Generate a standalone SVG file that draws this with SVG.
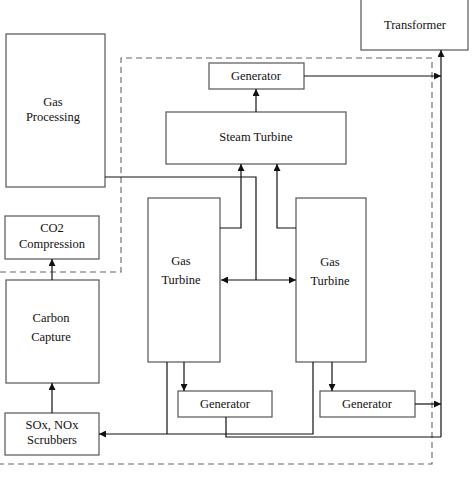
<svg xmlns="http://www.w3.org/2000/svg" width="474" height="489" viewBox="0 0 474 489">
<style>
.box{fill:#fff;stroke:#555;stroke-width:1.2}
text{font-family:'Liberation Serif','Times New Roman','DejaVu Serif',serif;font-size:12.5px;fill:#111;text-anchor:middle}
.c{fill:none;stroke:#111;stroke-width:1.2}
.dash{fill:none;stroke:#666;stroke-width:1.1;stroke-dasharray:6,4}
</style>
<defs>
<marker id="ah" markerUnits="userSpaceOnUse" markerWidth="8" markerHeight="7" refX="7" refY="3.5" orient="auto-start-reverse">
<path d="M0,0 L7,3.5 L0,7 z" fill="#111"/>
</marker>
</defs>
<rect width="474" height="489" fill="#fff"/>
<polyline class="dash" points="0,272 121,272 121,58 432,58 432,464 0,464"/>
<g id="gas-processing"><rect class="box" x="6" y="34" width="99" height="153"/><text font-family="Liberation Serif, serif" x="53" y="106">Gas</text><text font-family="Liberation Serif, serif" x="53" y="121">Processing</text></g>
<g id="co2-compression"><rect class="box" x="5" y="216" width="94" height="43"/><text font-family="Liberation Serif, serif" x="52" y="232">CO2</text><text font-family="Liberation Serif, serif" x="52" y="248">Compression</text></g>
<g id="carbon-capture"><rect class="box" x="6" y="280" width="93" height="103"/><text font-family="Liberation Serif, serif" x="51" y="322">Carbon</text><text font-family="Liberation Serif, serif" x="51" y="341">Capture</text></g>
<g id="scrubbers"><rect class="box" x="5" y="413" width="94" height="42"/><text font-family="Liberation Serif, serif" x="52" y="429">SOx, NOx</text><text font-family="Liberation Serif, serif" x="52" y="444">Scrubbers</text></g>
<g id="transformer"><rect class="box" x="361" y="-2" width="107" height="52"/><text font-family="Liberation Serif, serif" x="415" y="29">Transformer</text></g>
<g id="generator-top"><rect class="box" x="209" y="63" width="95" height="26"/><text font-family="Liberation Serif, serif" x="256" y="80">Generator</text></g>
<g id="steam-turbine"><rect class="box" x="166" y="112" width="180" height="52"/><text font-family="Liberation Serif, serif" x="256" y="141">Steam Turbine</text></g>
<g id="gas-turbine-left"><rect class="box" x="148" y="198" width="72" height="164"/><text font-family="Liberation Serif, serif" x="181" y="265">Gas</text><text font-family="Liberation Serif, serif" x="181" y="284">Turbine</text></g>
<g id="gas-turbine-right"><rect class="box" x="296" y="198" width="70" height="164"/><text font-family="Liberation Serif, serif" x="330" y="266">Gas</text><text font-family="Liberation Serif, serif" x="330" y="285">Turbine</text></g>
<g id="generator-left"><rect class="box" x="178" y="391" width="94" height="26"/><text font-family="Liberation Serif, serif" x="225" y="408">Generator</text></g>
<g id="generator-right"><rect class="box" x="320" y="391" width="95" height="26"/><text font-family="Liberation Serif, serif" x="367" y="408">Generator</text></g>
<g id="connectors">
<path class="c" d="M105,177 H256 V280"/>
<path class="c" d="M221,280 H296" marker-start="url(#ah)" marker-end="url(#ah)"/>
<path class="c" d="M220,228 H241 V164" marker-end="url(#ah)"/>
<path class="c" d="M296,228 H277 V164" marker-end="url(#ah)"/>
<path class="c" d="M256,112 V89" marker-end="url(#ah)"/>
<path class="c" d="M304,76 H441" marker-end="url(#ah)"/>
<path class="c" d="M441,437 V50" marker-end="url(#ah)"/>
<path class="c" d="M184,362 V391" marker-end="url(#ah)"/>
<path class="c" d="M332,362 V391" marker-end="url(#ah)"/>
<path class="c" d="M415,404 H441" marker-end="url(#ah)"/>
<path class="c" d="M226,417 V437 H441"/>
<path class="c" d="M313,362 V434 H99" marker-end="url(#ah)"/>
<path class="c" d="M167,362 V434"/>
<path class="c" d="M52,413 V383" marker-end="url(#ah)"/>
<path class="c" d="M52,280 V259" marker-end="url(#ah)"/>
</g>
</svg>
